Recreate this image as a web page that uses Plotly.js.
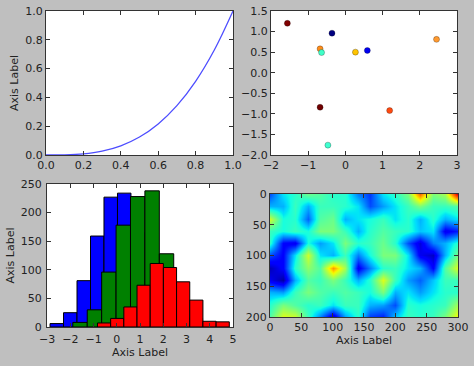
<!DOCTYPE html>
<html><head><meta charset="utf-8">
<script src="https://cdn.plot.ly/plotly-3.0.1.min.js"></script>
<style>html,body{margin:0;padding:0;background:#bfbfbf;}#chart{width:474px;height:366px;}</style>
</head><body><div id="chart"></div>
<script>
// --- Line panel (top-left) ---
const lineX = [0, 0.1, 0.2, 0.3, 0.4, 0.5, 0.6, 0.7, 0.8, 0.9, 1.0];
const lineY = [0, 0.001, 0.008, 0.027, 0.064, 0.125, 0.216, 0.343, 0.512, 0.729, 1.0];

// --- Scatter panel (top-right) ---
const scatX = [-1.56, -0.36, -0.68, -0.64, 0.27, 0.59, 2.45, -0.68, 1.19, -0.47];
const scatY = [1.20, 0.96, 0.58, 0.49, 0.50, 0.54, 0.81, -0.84, -0.92, -1.76];
const scatColors = ['#800000', '#000080', '#ff8c1a', '#40ffc8', '#ffc400', '#0000f0', '#ff9a30', '#700000', '#ff4a10', '#40ffd0'];

// --- Histogram panel (bottom-left): bin start, bin width, counts ---
const blueStart = -2.87, blueWidth = 0.58;
const blueCounts = [6, 25, 81, 159, 227, 234, 165, 75, 22, 6];
const greenStart = -1.89, greenWidth = 0.62;
const greenCounts = [8, 30, 96, 178, 228, 238, 128, 50, 15, 4];
const redStart = -0.83, redWidth = 0.567;
const redCounts = [7, 15, 35, 73, 111, 104, 79, 47, 10, 9];

// --- Image panel (bottom-right): coarse grid ---
const imgX = [0, 20, 40, 60, 80, 100, 120, 140, 160, 180, 200, 220, 240, 260, 280, 300];
const imgY = [0, 20, 40, 60, 80, 100, 120, 140, 160, 180, 200];
const imgZ = [
  [0.20,0.35,0.40,0.48,0.45,0.40,0.40,0.25,0.18,0.35,0.40,0.50,0.80,0.50,0.55,0.95],
  [0.30,0.30,0.42,0.30,0.42,0.42,0.40,0.35,0.20,0.28,0.35,0.42,0.50,0.42,0.42,0.45],
  [0.60,0.38,0.40,0.22,0.45,0.48,0.30,0.35,0.38,0.42,0.35,0.40,0.30,0.40,0.30,0.35],
  [0.42,0.38,0.42,0.38,0.50,0.50,0.42,0.30,0.40,0.45,0.42,0.40,0.32,0.35,0.10,0.15],
  [0.40,0.12,0.10,0.38,0.28,0.35,0.50,0.40,0.42,0.48,0.40,0.20,0.08,0.25,0.30,0.40],
  [0.20,0.12,0.35,0.60,0.35,0.30,0.42,0.25,0.38,0.50,0.50,0.35,0.10,0.06,0.30,0.50],
  [0.05,0.12,0.40,0.52,0.45,0.75,0.55,0.10,0.25,0.40,0.42,0.35,0.30,0.12,0.45,0.62],
  [0.10,0.03,0.30,0.45,0.42,0.50,0.42,0.30,0.40,0.62,0.42,0.28,0.22,0.32,0.42,0.42],
  [0.30,0.28,0.42,0.50,0.45,0.42,0.45,0.42,0.38,0.50,0.30,0.35,0.28,0.35,0.40,0.40],
  [0.40,0.50,0.45,0.40,0.42,0.35,0.42,0.42,0.30,0.28,0.20,0.40,0.38,0.40,0.42,0.55],
  [0.45,0.62,0.60,0.42,0.25,0.06,0.28,0.40,0.18,0.15,0.32,0.42,0.40,0.42,0.50,0.65]
];

const jet = [
  [0, 'rgb(0,0,128)'], [0.11, 'rgb(0,0,255)'], [0.125, 'rgb(0,0,255)'],
  [0.34, 'rgb(0,219,255)'], [0.35, 'rgb(0,229,246)'], [0.375, 'rgb(20,255,226)'],
  [0.64, 'rgb(238,255,8)'], [0.65, 'rgb(246,245,0)'], [0.66, 'rgb(255,236,0)'],
  [0.89, 'rgb(255,18,0)'], [0.91, 'rgb(232,0,0)'], [1, 'rgb(128,0,0)']
];

function edges(start, width, n) { const a = []; for (let i = 0; i < n; i++) a.push(start + i * width); return a; }

const traces = [
  {type: 'scatter', mode: 'lines', x: lineX, y: lineY, line: {color: 'rgba(0,0,255,0.7)', width: 1.3, shape: 'spline'}, xaxis: 'x', yaxis: 'y', hoverinfo: 'skip'},
  {type: 'scatter', mode: 'markers', x: scatX, y: scatY, marker: {color: scatColors, size: 6, line: {color: 'rgba(0,0,0,0.5)', width: 0.5}}, xaxis: 'x2', yaxis: 'y2'},
  {type: 'bar', x: edges(blueStart, blueWidth, blueCounts.length), y: blueCounts, width: blueWidth, offset: 0, marker: {color: '#0000ff', line: {color: '#000', width: 1}}, xaxis: 'x3', yaxis: 'y3'},
  {type: 'bar', x: edges(greenStart, greenWidth, greenCounts.length), y: greenCounts, width: greenWidth, offset: 0, marker: {color: '#008000', line: {color: '#000', width: 1}}, xaxis: 'x3', yaxis: 'y3'},
  {type: 'bar', x: edges(redStart, redWidth, redCounts.length), y: redCounts, width: redWidth, offset: 0, marker: {color: '#ff0000', line: {color: '#000', width: 1}}, xaxis: 'x3', yaxis: 'y3'},
  {type: 'heatmap', x: imgX, y: imgY, z: imgZ, zmin: 0, zmax: 1, colorscale: jet, zsmooth: 'best', showscale: false, xaxis: 'x4', yaxis: 'y4'}
];

const font = {family: 'DejaVu Sans, sans-serif', size: 11, color: '#222'};
function ax(extra) {
  return Object.assign({
    showgrid: false, zeroline: false, showline: true, linecolor: '#333', linewidth: 1,
    mirror: 'ticks', ticks: 'inside', ticklen: 4, tickcolor: '#333', tickfont: font,
    fixedrange: true
  }, extra);
}

const layout = {
  width: 474, height: 366,
  paper_bgcolor: '#bfbfbf', plot_bgcolor: '#ffffff',
  margin: {l: 0, r: 0, t: 0, b: 0},
  showlegend: false, barmode: 'overlay', bargap: 0,
  font: font,
  xaxis: ax({domain: [0.097, 0.4916], range: [0, 1], dtick: 0.2, tickformat: '.1f', anchor: 'y'}),
  yaxis: ax({domain: [0.5765, 0.97], range: [0, 1], dtick: 0.2, tickformat: '.1f', anchor: 'x', title: {text: 'Axis Label', font: font, standoff: 4}}),
  xaxis2: ax({domain: [0.5717, 0.9641], range: [-2, 3], dtick: 1, anchor: 'y2'}),
  yaxis2: ax({domain: [0.5765, 0.97], range: [-2, 1.5], dtick: 0.5, tickformat: '.1f', anchor: 'x2'}),
  xaxis3: ax({domain: [0.0992, 0.4916], range: [-3, 5], dtick: 1, anchor: 'y3', ticklabelstandoff: 2, title: {text: 'Axis Label', font: font, standoff: 1}}),
  yaxis3: ax({domain: [0.1066, 0.4973], range: [0, 250], dtick: 50, anchor: 'x3', ticklabelstandoff: 2, title: {text: 'Axis Label', font: font, standoff: 3}}),
  xaxis4: ax({domain: [0.5696, 0.9662], range: [0, 300], dtick: 50, anchor: 'y4', title: {text: 'Axis Label', font: font, standoff: 2}}),
  yaxis4: ax({domain: [0.1339, 0.4699], range: [200, 0], dtick: 50, anchor: 'x4'})
};

Plotly.newPlot('chart', traces, layout, {displayModeBar: false, staticPlot: true});
</script></body></html>
